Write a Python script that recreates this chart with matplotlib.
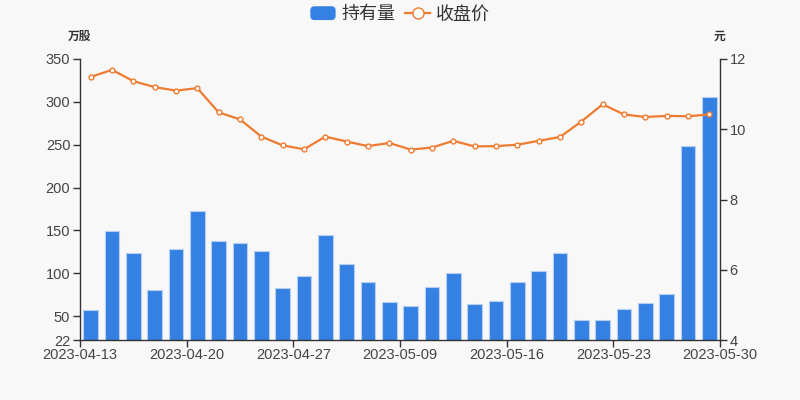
import matplotlib
matplotlib.use("Agg")
import matplotlib.pyplot as plt
from matplotlib.patches import FancyBboxPatch
from matplotlib.lines import Line2D
from matplotlib.legend_handler import HandlerPatch
import numpy as np

plt.rcParams['font.family'] = ['Liberation Sans', 'Noto Sans CJK SC', 'DejaVu Sans']

holdings = [57, 149, 123, 80, 128, 173, 137, 135, 126, 83,
            97, 145, 111, 90, 66, 62, 84, 100, 64, 67,
            90, 103, 124, 45, 45, 58, 65, 76, 248, 306]
close = [11.49, 11.69, 11.37, 11.20, 11.10, 11.17, 10.48, 10.28, 9.79, 9.54,
         9.43, 9.79, 9.65, 9.52, 9.61, 9.42, 9.48, 9.67, 9.51, 9.52,
         9.56, 9.67, 9.78, 10.22, 10.71, 10.42, 10.35, 10.38, 10.37, 10.42]
tick_labels = ['2023-04-13', '2023-04-20', '2023-04-27', '2023-05-09',
               '2023-05-16', '2023-05-23', '2023-05-30']
left_ticks = [22, 50, 100, 150, 200, 250, 300, 350]
right_ticks = [4, 6, 8, 10, 12]

bg = '#f8f8f8'
blue = '#3481e3'
orange = '#ee7b30'
txt = '#444444'

fig = plt.figure(figsize=(8, 4), dpi=100, facecolor=bg)
ax = fig.add_axes([80/800, 60/400, 640/800, 281/400])
ax.set_facecolor(bg)
x = np.arange(len(holdings))
ax.bar(x, holdings, width=0.7, color=blue, edgecolor='#b5d0f3', linewidth=0.8, zorder=2)
ax.set_xlim(-0.5, len(holdings) - 0.5)
ax.set_ylim(22, 350)
ax.set_yticks(left_ticks)
ax.set_xticks(np.arange(len(tick_labels)) * 5 - 0.5)
ax.set_xticklabels(tick_labels)

ax2 = ax.twinx()
ax2.plot(x, close, color=orange, lw=1.6, marker='o', markersize=3.5,
         markerfacecolor='white', markeredgecolor=orange, markeredgewidth=1, zorder=3)
ax2.set_ylim(4, 12)
ax2.set_yticks(right_ticks)

for a in (ax, ax2):
    a.spines['top'].set_visible(False)
    for s in ('left', 'right', 'bottom'):
        a.spines[s].set_color('#333333')
        a.spines[s].set_linewidth(1)
    a.tick_params(colors='#333333', labelcolor=txt, labelsize=10.5, length=5, width=1)
ax.spines['right'].set_visible(False)
ax2.spines['left'].set_visible(False)
ax2.spines['bottom'].set_visible(False)
ax.tick_params(axis='x', pad=1)
ax.tick_params(axis='y', pad=2)
ax2.tick_params(axis='y', pad=2)

fig.text(80/800, 1 - 37/400, '万股', ha='center', va='center', fontsize=8.5,
         fontweight='bold', color='#333333')
fig.text(720/800, 1 - 37/400, '元', ha='center', va='center', fontsize=8.5,
         fontweight='bold', color='#333333')

class RoundHandler(HandlerPatch):
    def create_artists(self, legend, orig_handle, xdescent, ydescent, width, height, fontsize, trans):
        p = FancyBboxPatch((-xdescent, -ydescent), width, height,
                           boxstyle='round,pad=0,rounding_size=3',
                           facecolor=blue, edgecolor='none', transform=trans)
        return [p]

bar_handle = FancyBboxPatch((0, 0), 1, 1, facecolor=blue)
line_handle = Line2D([], [], color=orange, lw=1.6, marker='o', markersize=8,
                     markerfacecolor='white', markeredgecolor=orange, markeredgewidth=1)
fig.legend([bar_handle, line_handle], ['持有量', '收盘价'], loc='upper center',
           bbox_to_anchor=(0.5, 1.025), ncol=2, frameon=False, fontsize=13,
           handler_map={FancyBboxPatch: RoundHandler()}, handlelength=1.4,
           handleheight=0.8, columnspacing=0.55, handletextpad=0.3, labelcolor='#333333')

fig.savefig('out.png', dpi=100, facecolor=bg)
